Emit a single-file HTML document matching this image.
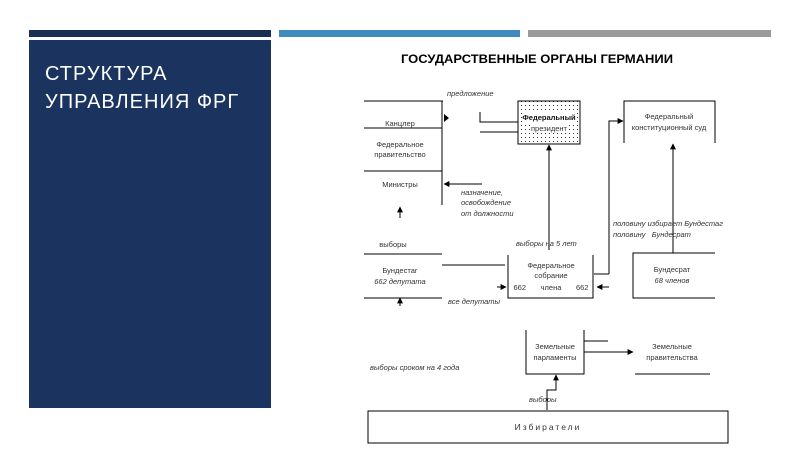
<!DOCTYPE html>
<html><head><meta charset="utf-8"><style>
html,body{margin:0;padding:0;background:#fff;width:800px;height:449px;overflow:hidden}
svg{display:block}
</style></head><body>
<svg width="800" height="449" viewBox="0 0 800 449" xmlns="http://www.w3.org/2000/svg">
<defs>
<pattern id="dots" width="4" height="4" patternUnits="userSpaceOnUse"><rect x="1" y="1" width="1" height="1" fill="#333"/></pattern>
<marker id="a" viewBox="0 0 10 10" refX="9" refY="5" markerWidth="6" markerHeight="6" orient="auto"><path d="M0,0L10,5L0,10z" fill="#000"/></marker>
</defs>
<rect x="29" y="30" width="242" height="7" fill="#1b2f55"/>
<rect x="279" y="30" width="241" height="7" fill="#3f8bbf"/>
<rect x="528" y="30" width="243" height="7" fill="#9a9a9a"/>
<rect x="29" y="40" width="242" height="368" fill="#1b345f"/>
<text x="45" y="80" fill="#fff" font-family="Liberation Sans, sans-serif" font-size="20" letter-spacing="1">СТРУКТУРА</text>
<text x="45" y="108" fill="#fff" font-family="Liberation Sans, sans-serif" font-size="20" letter-spacing="1">УПРАВЛЕНИЯ ФРГ</text>
<text x="401" y="63" font-family="Liberation Sans, sans-serif" font-size="12" font-weight="bold" textLength="272" lengthAdjust="spacingAndGlyphs">ГОСУДАРСТВЕННЫЕ ОРГАНЫ ГЕРМАНИИ</text>
<g stroke="#000" stroke-width="1" fill="none">
<path d="M364 101H443M442 101V205M364 128H442M364 171H442"/>
<path d="M482 184H444" marker-end="url(#a)"/>
<path d="M480 112V122H518M480 132H518"/>
<rect x="518" y="101" width="62" height="43" fill="url(#dots)"/>
<path d="M549 250V145" marker-end="url(#a)"/>
<path d="M624 143V101H715V143"/>
<path d="M609 274V121H623" marker-end="url(#a)"/>
<path d="M609 274H594M593 255V298H508V255"/>
<path d="M673 253V144" marker-end="url(#a)"/>
<path d="M715 253H633V298H715"/>
<path d="M609 287H597" marker-end="url(#a)"/>
<path d="M364 254H442M364 298H442M442 265H505"/>
<path d="M497 287H506" marker-end="url(#a)"/>
<path d="M400 306V298" marker-end="url(#a)"/>
<path d="M400 218V207" marker-end="url(#a)"/>
<path d="M526 330V374H584V330M584 341H608M584 352H632" />
<path d="M620 352H633" marker-end="url(#a)"/>
<path d="M635 374H710"/>
<path d="M547 410V390H556V375" marker-end="url(#a)"/>
<rect x="368" y="411" width="360" height="32"/>
</g>
<path d="M449 118L444 114V122z" fill="#000"/>
<rect x="522" y="113" width="54" height="9" fill="#fff"/>
<rect x="530" y="124" width="38" height="9" fill="#fff"/>
<g font-family="Liberation Sans, sans-serif" font-size="7.5" fill="#333" text-anchor="middle">
<text x="400" y="126">Канцлер</text>
<text x="400" y="147">Федеральное</text>
<text x="400" y="157">правительство</text>
<text x="400" y="187">Министры</text>
<text x="549" y="120" font-weight="bold" fill="#111">Федеральный</text>
<text x="549" y="131">президент</text>
<text x="669" y="119">Федеральный</text>
<text x="669" y="130">конституционный суд</text>
<text x="393" y="247">выборы</text>
<text x="400" y="273">Бундестаг</text>
<text x="400" y="284" font-style="italic">662 депутата</text>
<text x="551" y="268">Федеральное</text>
<text x="551" y="278">собрание</text>
<text x="551" y="290">662 &#160;&#160;&#160;&#160;&#160; члена &#160;&#160;&#160;&#160;&#160; 662</text>
<text x="672" y="272">Бундесрат</text>
<text x="672" y="283" font-style="italic">68 членов</text>
<text x="555" y="349">Земельные</text>
<text x="555" y="360">парламенты</text>
<text x="672" y="349">Земельные</text>
<text x="672" y="360">правительства</text>
<text x="548" y="430" font-size="8.5" letter-spacing="2">Избиратели</text>
</g>
<g font-family="Liberation Sans, sans-serif" font-size="7.5" fill="#333" font-style="italic">
<text x="447" y="96">предложение</text>
<text x="461" y="195">назначение,</text>
<text x="461" y="205">освобождение</text>
<text x="461" y="216">от должности</text>
<text x="613" y="226">половину избирает Бундестаг</text>
<text x="613" y="237">половину &#160; Бундесрат</text>
<text x="516" y="246">выборы на 5 лет</text>
<text x="448" y="304">все депутаты</text>
<text x="370" y="370">выборы сроком на 4 года</text>
<text x="529" y="402">выборы</text>
</g>
</svg>
</body></html>
